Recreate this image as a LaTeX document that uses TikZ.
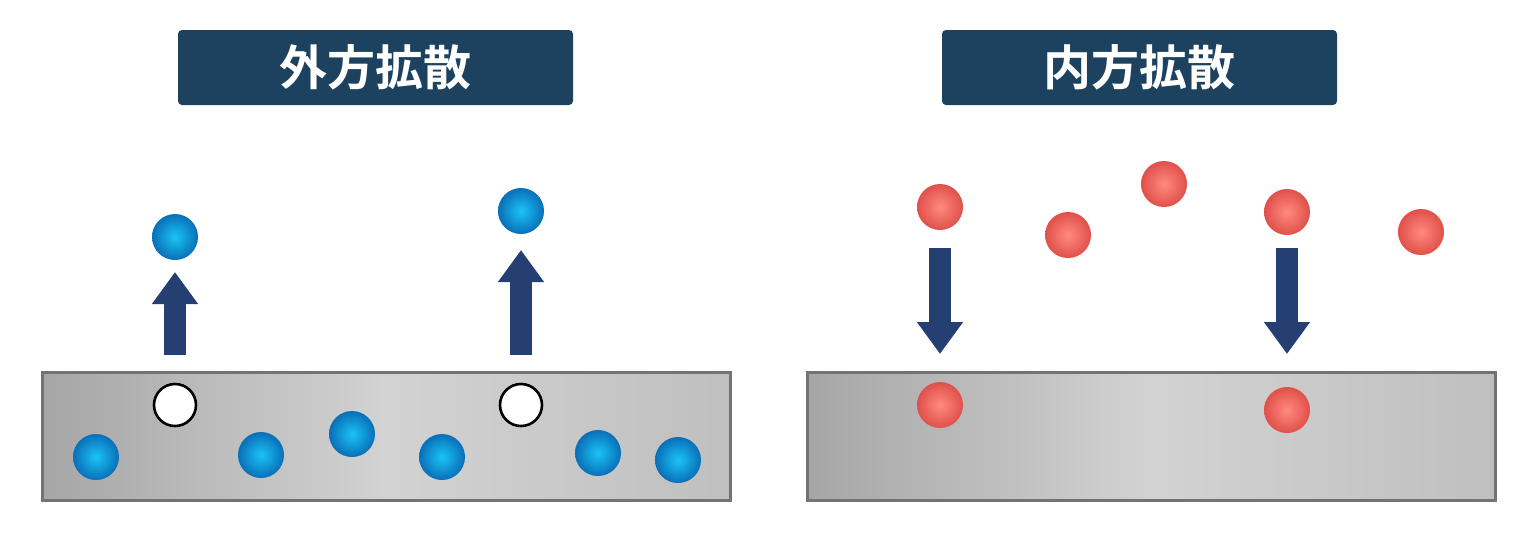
\documentclass[tikz,border=0pt]{standalone}
\usepackage{fontspec}
\newfontfamily\cjk{Noto Sans CJK JP}[BoldFont={Noto Sans CJK JP Bold}]
\usetikzlibrary{arrows.meta}
\definecolor{titlebg}{HTML}{1D4260}
\definecolor{arrowc}{HTML}{253F73}
\definecolor{bin}{HTML}{19C4F5}
\definecolor{bout}{HTML}{0A6FB8}
\definecolor{rin}{HTML}{FF8A80}
\definecolor{rout}{HTML}{E0504A}
\begin{document}
\begin{tikzpicture}[x=0.5pt,y=-0.5pt,
  title/.style={fill=titlebg,rounded corners=2pt,minimum width=197.5pt,minimum height=37.5pt,text=white,font=\cjk\bfseries\fontsize{24}{28}\selectfont,inner sep=0pt},
  slab/.style={draw=gray!90!black,line width=1.5pt,minimum width=344pt,minimum height=64pt,inner sep=0pt,left color=gray!70,right color=gray!50,middle color=gray!35},
  bball/.style={circle,minimum size=23pt,inner sep=0pt,inner color=bin,outer color=bout},
  rball/.style={circle,minimum size=23pt,inner sep=0pt,inner color=rin,outer color=rout},
  hole/.style={circle,minimum size=21pt,inner sep=0pt,draw=black,line width=1.3pt,fill=white},
  arr/.style={-{Triangle[width=22pt,length=16pt]},line width=11pt,draw=arrowc}]
\useasboundingbox (0,0) rectangle (1536,537);
\node[title] (t1) at (375.5,67.5) {外方拡散};
\node[title] (t2) at (1139.5,67.5) {内方拡散};
\node[slab] (s1) at (386,436) {};
\node[slab] (s2) at (1151,436) {};
% left
\node[bball] (b1) at (175,237) {};
\node[bball] (b2) at (521,211) {};
\node[hole] (h1) at (175,405) {};
\node[hole] (h2) at (521,405) {};
\foreach \n/\x/\y in {c1/96/457,c2/261/455,c3/352/434,c4/442/457,c5/598/453,c6/678/460}
  \node[bball] (\n) at (\x,\y) {};
\coordinate (u1s) at (175,355); \coordinate (u1e) at (175,272);
\coordinate (u2s) at (521,355); \coordinate (u2e) at (521,250);
\draw[arr] (u1s) -- (u1e);
\draw[arr] (u2s) -- (u2e);
% right
\foreach \n/\x/\y in {r1/940/207,r2/1068/235,r3/1164/184,r4/1287/212,r5/1421/232,r6/940/405,r7/1287/410}
  \node[rball] (\n) at (\x,\y) {};
\coordinate (d1s) at (940,248); \coordinate (d1e) at (940,354);
\coordinate (d2s) at (1287,248); \coordinate (d2e) at (1287,354);
\draw[arr] (d1s) -- (d1e);
\draw[arr] (d2s) -- (d2e);
\end{tikzpicture}
\end{document}
